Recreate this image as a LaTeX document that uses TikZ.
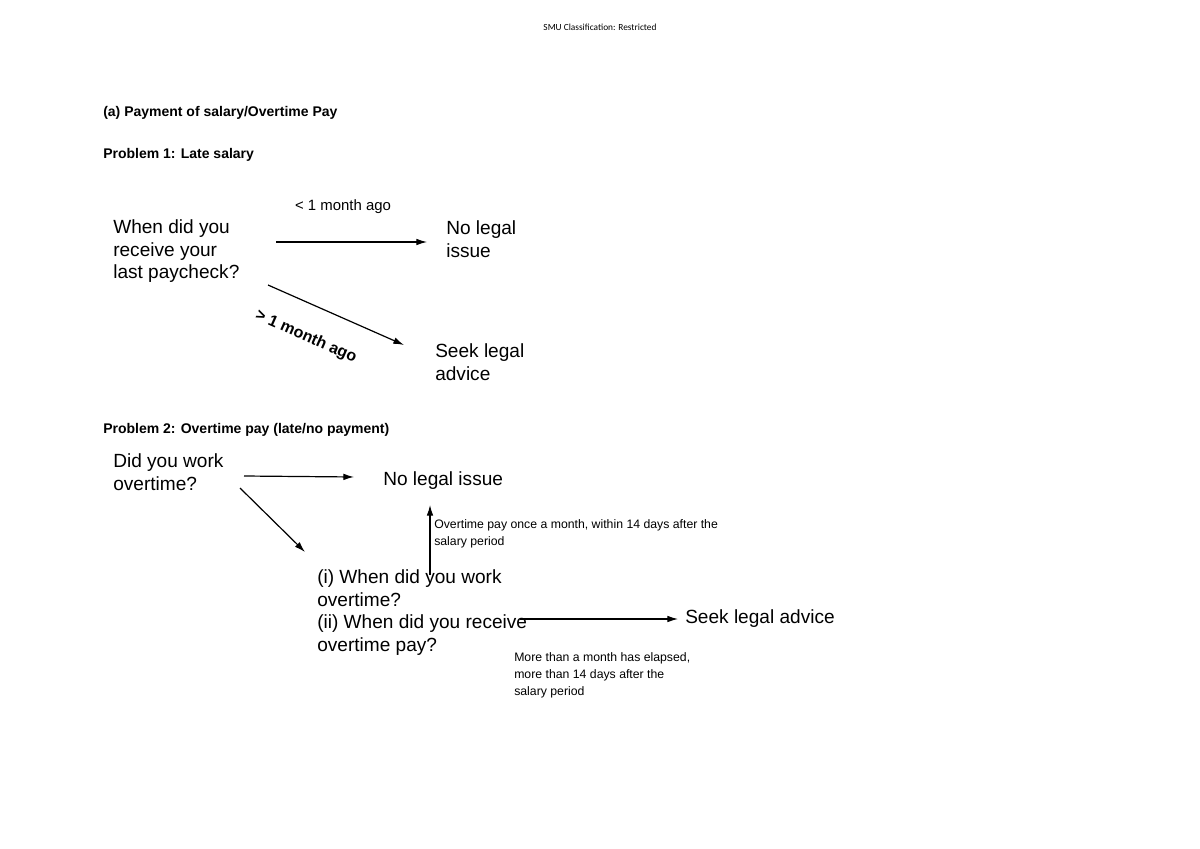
\documentclass[tikz,border=0pt]{standalone}
\usepackage{fontspec}
\setmainfont{Liberation Sans}
\newfontfamily\hdr{Carlito}
\usetikzlibrary{arrows.meta}
\begin{document}
\begin{tikzpicture}[x=0.75pt,y=-0.75pt,
  big/.style={font=\fontsize{14.3}{17.2}\selectfont,align=left,anchor=north west,inner sep=0pt},
  head/.style={font=\bfseries\fontsize{10.5}{12}\selectfont,anchor=west,inner sep=0pt},
  small/.style={font=\fontsize{9.2}{13}\selectfont,align=left,anchor=north west,inner sep=0pt},
  arr/.style={-{Latex[length=8pt,width=5pt]},line width=0.9pt}]
\useasboundingbox (0,0) rectangle (1200,849);
\node[font=\hdr\fontsize{7}{8}\selectfont] (h) at (600,27) {SMU Classification: Restricted};
\node[head] (ha) at (103,113) {(a) Payment of salary/Overtime Pay};
\node[head] (p1) at (103,155) {Problem 1: Late salary};
\node[font=\fontsize{11.2}{12}\selectfont] (l1) at (343,207) {< 1 month ago};
\node[big] (q1) at (113,219) {When did you\\receive your\\last paycheck?};
\coordinate (a1) at (276,242);
\node[big] (n1) at (446,220) {No legal\\issue};
\draw[arr] (a1) -- (427,242) coordinate (a1e);
\coordinate (b1) at (268,285);
\coordinate (b1e) at (404,345);
\draw[arr] (b1) -- (b1e);
\node[font=\bfseries\fontsize{12}{12}\selectfont,rotate=-24,inner sep=0pt] (l2) at (306,337) {> 1 month ago};
\node[big] (s1) at (435,343) {Seek legal\\advice};
\node[head] (p2) at (103,430) {Problem 2: Overtime pay (late/no payment)};
\node[big] (q2) at (113,453) {Did you work\\overtime?};
\coordinate (c1) at (244,476);
\coordinate (c1e) at (354,477);
\draw[arr] (c1) -- (c1e);
\node[big,anchor=west] (n2) at (383,481) {No legal issue};
\coordinate (d1) at (240,488);
\coordinate (d1e) at (305,552);
\draw[arr] (d1) -- (d1e);
\node[big] (q3) at (317,569) {(i) When did you work\\overtime?\\(ii) When did you receive\\overtime pay?};
\coordinate (e1) at (430,575);
\coordinate (e1e) at (430,505);
\draw[arr] (e1) -- (e1e);
\node[small] (l3) at (434,519) {Overtime pay once a month, within 14 days after the\\salary period};
\coordinate (f1) at (520,619);
\coordinate (f1e) at (678,619);
\draw[arr] (f1) -- (f1e);
\node[big,anchor=west] (s2) at (685,619) {Seek legal advice};
\node[small] (l4) at (514,652) {More than a month has elapsed,\\more than 14 days after the\\salary period};
\end{tikzpicture}
\end{document}
